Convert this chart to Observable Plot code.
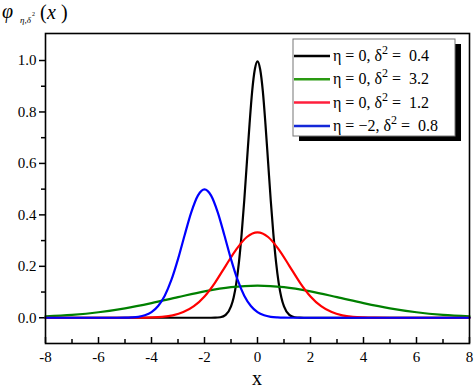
<!DOCTYPE html>
<html><head><meta charset="utf-8">
<script src="https://cdn.jsdelivr.net/npm/d3@7"></script>
<script src="https://cdn.jsdelivr.net/npm/@observablehq/plot@0.6"></script>
<style>body{margin:0;background:#fff}</style>
</head><body><div id="chart"></div>
<script>
// Series: normal densities
const blackX = [-8, -2, -1.6, -1.4, -1.2, -1.0, -0.9, -0.8, -0.7, -0.6, -0.5, -0.4, -0.3, -0.2, -0.1, 0, 0.1, 0.2, 0.3, 0.4, 0.5, 0.6, 0.7, 0.8, 0.9, 1.0, 1.2, 1.4, 1.6, 2, 8];
const blackY = [0, 0, 0.0003, 0.002, 0.011, 0.044, 0.079, 0.135, 0.216, 0.324, 0.456, 0.605, 0.753, 0.882, 0.966, 0.997, 0.966, 0.882, 0.753, 0.605, 0.456, 0.324, 0.216, 0.135, 0.079, 0.044, 0.011, 0.002, 0.0003, 0, 0];

const greenX = [-8, -7, -6, -5, -4, -3, -2, -1, 0, 1, 2, 3, 4, 5, 6, 7, 8];
const greenY = [0.0055, 0.0114, 0.0215, 0.0368, 0.0571, 0.0803, 0.1026, 0.119, 0.125, 0.119, 0.1026, 0.0803, 0.0571, 0.0368, 0.0215, 0.0114, 0.0055];

const redX = [-8, -5, -4.4, -4, -3.6, -3.2, -2.8, -2.4, -2, -1.6, -1.2, -0.8, -0.4, 0, 0.4, 0.8, 1.2, 1.6, 2, 2.4, 2.8, 3.2, 3.6, 4, 4.4, 5, 8];
const redY = [0, 0.0001, 0.0004, 0.0013, 0.0037, 0.0095, 0.022, 0.045, 0.083, 0.137, 0.202, 0.266, 0.314, 0.332, 0.314, 0.266, 0.202, 0.137, 0.083, 0.045, 0.022, 0.0095, 0.0037, 0.0013, 0.0004, 0.0001, 0];

const blueX = [-8, -5.5, -5, -4.75, -4.5, -4.25, -4, -3.75, -3.5, -3.25, -3, -2.75, -2.5, -2.25, -2, -1.75, -1.5, -1.25, -1, -0.75, -0.5, -0.25, 0, 0.25, 0.5, 0.75, 1, 1.5, 8];
const blueY = [0, 0, 0.0004, 0.0014, 0.0038, 0.0096, 0.022, 0.046, 0.086, 0.147, 0.228, 0.321, 0.410, 0.475, 0.499, 0.475, 0.410, 0.321, 0.228, 0.147, 0.086, 0.046, 0.022, 0.0096, 0.0038, 0.0014, 0.0004, 0, 0];

const seriesEta = ["0", "0", "0", "\u22122"];
const seriesDelta = ["0.4", "3.2", "1.2", "0.8"];
const seriesColors = ["#000000", "#2a9a12", "#ff1f3c", "#1428d8"];
const seriesIds = ["black", "green", "red", "blue"];

const xMajor = [-8, -6, -4, -2, 0, 2, 4, 6, 8];
const xMinor = [-7, -5, -3, -1, 1, 3, 5, 7];
const yMajor = [0, 0.2, 0.4, 0.6, 0.8, 1.0];
const yMinor = [0.1, 0.3, 0.5, 0.7, 0.9];

const xsAll = [blackX, greenX, redX, blueX];
const ysAll = [blackY, greenY, redY, blueY];
const rows = [];
seriesIds.forEach((id, i) => {
  xsAll[i].forEach((x, j) => rows.push({series: id, x, y: ysAll[i][j]}));
});

const serif = "'Liberation Serif', 'Times New Roman', serif";
const tickFont = {fontFamily: serif, fontSize: 15, fill: "black"};

const plot = Plot.plot({
  width: 474, height: 388,
  marginLeft: 45, marginRight: 5, marginTop: 33, marginBottom: 45,
  style: {fontFamily: serif, fontSize: "15px", background: "white", color: "black"},
  x: {domain: [-8, 8]},
  y: {domain: [-0.1, 1.105]},
  color: {domain: seriesIds, range: seriesColors},
  marks: [
    Plot.axisX({ticks: xMajor, tickSize: -6, tickPadding: 14, tickFormat: d => String(d), label: null, strokeWidth: 1.5, ...tickFont}),
    Plot.axisX({ticks: xMinor, tickSize: -4, tickFormat: () => "", label: null, strokeWidth: 1.5}),
    Plot.axisY({ticks: yMajor, tickSize: 6, tickPadding: 3, tickFormat: d3.format(".1f"), label: null, strokeWidth: 1.5, ...tickFont}),
    Plot.axisY({ticks: yMinor, tickSize: 4, tickFormat: () => "", label: null, strokeWidth: 1.5}),
    Plot.line(rows, {x: "x", y: "y", z: "series", stroke: "series", strokeWidth: 2.2, curve: "monotone-x"}),
    Plot.frame({stroke: "black", strokeWidth: 1.6})
  ]
});
document.getElementById("chart").appendChild(plot);

const svg = d3.select(plot);
const txt = () => svg.append("text").attr("font-family", serif).attr("fill", "black").attr("text-anchor", "start");
// y label
txt().attr("font-style", "italic").attr("font-size", 20).attr("x", 2).attr("y", 18).text("\u03c6");
txt().attr("font-style", "italic").attr("font-size", 9).attr("x", 20).attr("y", 23).text("\u03b7,\u03b4");
txt().attr("font-size", 6).attr("x", 32).attr("y", 16).text("2");
txt().attr("font-size", 20).attr("x", 40).attr("y", 19).text("(");
txt().attr("font-size", 20).attr("font-style", "italic").attr("x", 47).attr("y", 19).text("x");
txt().attr("font-size", 20).attr("x", 61).attr("y", 19).text(")");
// x label
txt().attr("font-size", 20).attr("x", 252).attr("y", 385).text("x");

// legend
const lx = 293, ly = 39, lw = 162, lh = 97;
svg.append("rect").attr("x", lx + 6).attr("y", ly + 5).attr("width", lw).attr("height", lh).attr("fill", "black");
svg.append("rect").attr("x", lx).attr("y", ly).attr("width", lw).attr("height", lh).attr("fill", "white").attr("stroke", "#777").attr("stroke-width", 1);
seriesIds.forEach((id, i) => {
  const yy = ly + 17 + i * 23.3;
  svg.append("line").attr("x1", lx + 1).attr("x2", lx + 37).attr("y1", yy).attr("y2", yy).attr("stroke", seriesColors[i]).attr("stroke-width", 2.5);
  const t = txt().attr("font-size", 16).attr("x", lx + 40).attr("y", yy + 5).style("white-space", "pre");
  t.append("tspan").text("\u03b7 = " + seriesEta[i] + ", \u03b4");
  t.append("tspan").attr("dy", -7).attr("font-size", 12).text("2");
  t.append("tspan").attr("dy", 7).text(" =  " + seriesDelta[i]);
});
</script>
</body></html>
